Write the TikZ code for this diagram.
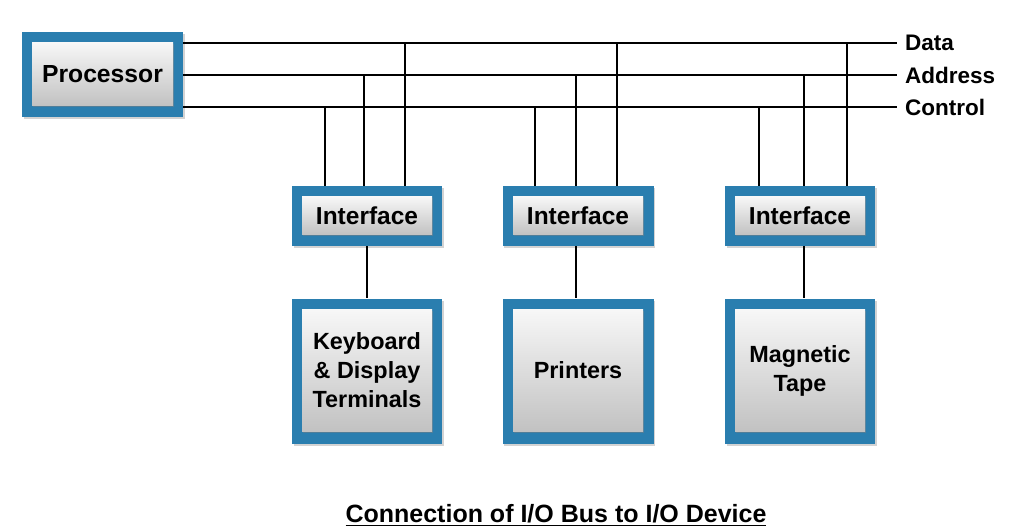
\documentclass[tikz,border=0pt]{standalone}
\usepackage{fontspec}
\setmainfont{Liberation Sans}
\usetikzlibrary{shadows}
\definecolor{framebl}{HTML}{2A7EAF}
\tikzset{
  frame/.style={fill=framebl, draw=none, inner sep=0pt,
    drop shadow={shadow xshift=1.5pt, shadow yshift=-2pt, opacity=.35}},
  face/.style={top color=white!97!black, bottom color=white!76!black, draw=none,
    inner sep=0pt, align=center,
    drop shadow={shadow xshift=1pt, shadow yshift=-1.5pt, opacity=.45}},
  bus/.style={line width=2pt},
  buslabel/.style={anchor=west, inner xsep=8pt, inner ysep=0pt,
    font=\bfseries\fontsize{22.5}{27}\selectfont},
}
\begin{document}
\begin{tikzpicture}[x=1pt,y=-1pt]
\useasboundingbox (0,0) rectangle (1012,532);
% processor
\node[frame, minimum width=161pt, minimum height=85pt] (proc) at (102.5,74.5) {};
\node[face, minimum width=141pt, minimum height=63pt,
  font=\bfseries\fontsize{24.7}{29}\selectfont] (procin) at (102.5,74) {Processor};
% bus names
\node[buslabel] (data) at (897,43) {Data};
\node[buslabel] (addr) at (897,75) {Address};
\node[buslabel] (ctrl) at (897,107) {Control};
% interfaces
\node[frame, minimum width=150pt, minimum height=60pt] (if1) at (367,216) {};
\node[frame, minimum width=151pt, minimum height=60pt] (if2) at (578,216) {};
\node[frame, minimum width=150pt, minimum height=60pt] (if3) at (800,216) {};
\node[face, minimum width=130pt, minimum height=38pt,
  font=\bfseries\fontsize{24.5}{29}\selectfont] (if1in) at (367,215.5) {Interface};
\node[face, minimum width=130pt, minimum height=38pt,
  font=\bfseries\fontsize{24.5}{29}\selectfont] (if2in) at (578,215.5) {Interface};
\node[face, minimum width=130pt, minimum height=38pt,
  font=\bfseries\fontsize{24.5}{29}\selectfont] (if3in) at (800,215.5) {Interface};
% devices
\node[frame, minimum width=150pt, minimum height=145pt] (dev1) at (367,371) {};
\node[frame, minimum width=151pt, minimum height=145pt] (dev2) at (578,371) {};
\node[frame, minimum width=150pt, minimum height=145pt] (dev3) at (800,371) {};
\node[face, minimum width=130pt, minimum height=122pt,
  font=\bfseries\fontsize{23.4}{29}\selectfont] (dev1in) at (367,370.5)
  {Keyboard\\ \& Display\\ Terminals};
\node[face, minimum width=130pt, minimum height=122pt,
  font=\bfseries\fontsize{23.4}{29}\selectfont] (dev2in) at (578,370.5) {Printers};
\node[face, minimum width=130pt, minimum height=122pt,
  font=\bfseries\fontsize{23.4}{29}\selectfont] (dev3in) at (800,370.5) {Magnetic\\ Tape};
% bus lines
\draw[bus] (proc.east |- data.west) -- (data.west);
\draw[bus] (proc.east |- addr.west) -- (addr.west);
\draw[bus] (proc.east |- ctrl.west) -- (ctrl.west);
% drops from bus to interfaces
\draw[bus] ([xshift=-42pt]if1.north) -- ([xshift=-42pt]if1.north |- ctrl.west);
\draw[bus] ([xshift=-3pt]if1.north) -- ([xshift=-3pt]if1.north |- addr.west);
\draw[bus] ([xshift=38pt]if1.north) -- ([xshift=38pt]if1.north |- data.west);
\draw[bus] ([xshift=-43pt]if2.north) -- ([xshift=-43pt]if2.north |- ctrl.west);
\draw[bus] ([xshift=-2pt]if2.north) -- ([xshift=-2pt]if2.north |- addr.west);
\draw[bus] ([xshift=39pt]if2.north) -- ([xshift=39pt]if2.north |- data.west);
\draw[bus] ([xshift=-41pt]if3.north) -- ([xshift=-41pt]if3.north |- ctrl.west);
\draw[bus] ([xshift=4pt]if3.north) -- ([xshift=4pt]if3.north |- addr.west);
\draw[bus] ([xshift=47pt]if3.north) -- ([xshift=47pt]if3.north |- data.west);
% interfaces to devices
\draw[bus] (if1.south) -- (dev1.north);
\draw[bus] ([xshift=-2pt]if2.south) -- ([xshift=-2pt]dev2.north);
\draw[bus] ([xshift=4pt]if3.south) -- ([xshift=4pt]dev3.north);
% caption
\node[font=\bfseries\fontsize{25}{30}\selectfont] (title) at (556,515)
  {\underline{Connection of I/O Bus to I/O Device}};
\end{tikzpicture}
\end{document}
